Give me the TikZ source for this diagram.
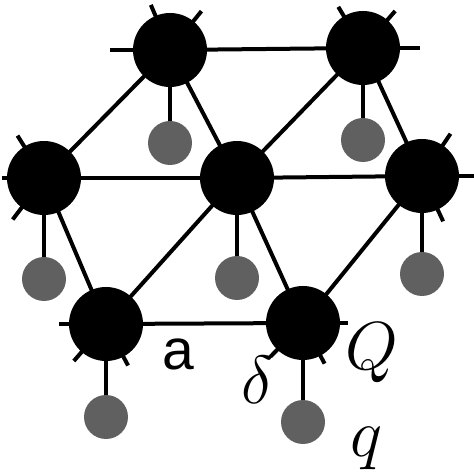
\RequirePackage{fix-cm}
\documentclass[tikz,border=0pt]{standalone}
\usepackage{fontspec}
\newfontfamily\labsans{Liberation Sans}
\definecolor{ballgray}{RGB}{96,96,96}
\tikzset{
  site/.style={circle,fill=black,draw=none,minimum size=74pt,inner sep=0pt},
  charge/.style={circle,fill=ballgray,draw=none,minimum size=44pt,inner sep=0pt},
  bond/.style={line width=4pt,black},
  lab/.style={inner sep=0pt,anchor=base},
}
\begin{document}
\begin{tikzpicture}[x=1pt,y=1pt]
\useasboundingbox (0,0) rectangle (474,474);
% coordinates of sites
\coordinate (TL) at (170,424);
\coordinate (TR) at (363,426);
\coordinate (L)  at (44,296);
\coordinate (M)  at (237,296);
\coordinate (R)  at (422,298);
\coordinate (BL) at (106,150);
\coordinate (BR) at (303,151);
\coordinate (gTL) at (170,331);
\coordinate (gTR) at (363,334);
\coordinate (gL)  at (44,195);
\coordinate (gM)  at (237,196);
\coordinate (gR)  at (422,200);
\coordinate (gBL) at (106,57);
\coordinate (gBR) at (303,52);
% bonds between sites
\draw[bond] (TL) -- (TR);
\draw[bond] (TL) -- (L);
\draw[bond] (TL) -- (M);
\draw[bond] (TR) -- (M);
\draw[bond] (TR) -- (R);
\draw[bond] (L) -- (M);
\draw[bond] (M) -- (R);
\draw[bond] (L) -- (BL);
\draw[bond] (M) -- (BL);
\draw[bond] (M) -- (BR);
\draw[bond] (R) -- (BR);
\draw[bond] (BL) -- (BR);
% vertical links to charges
\foreach \s in {TL,TR,L,M,R,BL,BR} \draw[bond] (\s) -- (g\s);
% free stubs and ticks
\draw[bond] (TL) -- ++(180:60);
\draw[bond] (TL) -- ++(113:49);
\draw[bond] (TL) -- ++(51:50);
\draw[bond] (TR) -- ++(0:57);
\draw[bond] (TR) -- ++(121:48);
\draw[bond] (TR) -- ++(49:49);
\draw[bond] (L) -- ++(180:42);
\draw[bond] (L) -- ++(122:50);
\draw[bond] (L) -- ++(-127:52);
\draw[bond] (R) -- ++(0:55);
\draw[bond] (R) -- ++(56:51);
\draw[bond] (R) -- ++(-65:50);
\draw[bond] (BL) -- ++(180:47);
\draw[bond] (BL) -- ++(-131:49);
\draw[bond] (BL) -- ++(-62:47);
\draw[bond] (BR) -- ++(0:45);
\draw[bond] (BR) -- ++(-134:47);
\draw[bond] (BR) -- ++(-62:46);
% sites
\foreach \s in {TL,TR,L,M,R,BL,BR} {
  \node[site] (n\s) at (\s) {};
  \node[charge] (c\s) at (g\s) {};
}
% labels
\node[lab] (la) at (178,104) {\labsans\fontsize{57}{57}\selectfont a};
\node[lab] (ld) at (258,70) {\fontsize{68}{68}\selectfont$\delta$};
\node[lab] (lQ) at (372,104) {\fontsize{68}{68}\selectfont$Q$};
\node[lab] (lq) at (366,17) {\fontsize{68}{68}\selectfont$q$};
\end{tikzpicture}
\end{document}
